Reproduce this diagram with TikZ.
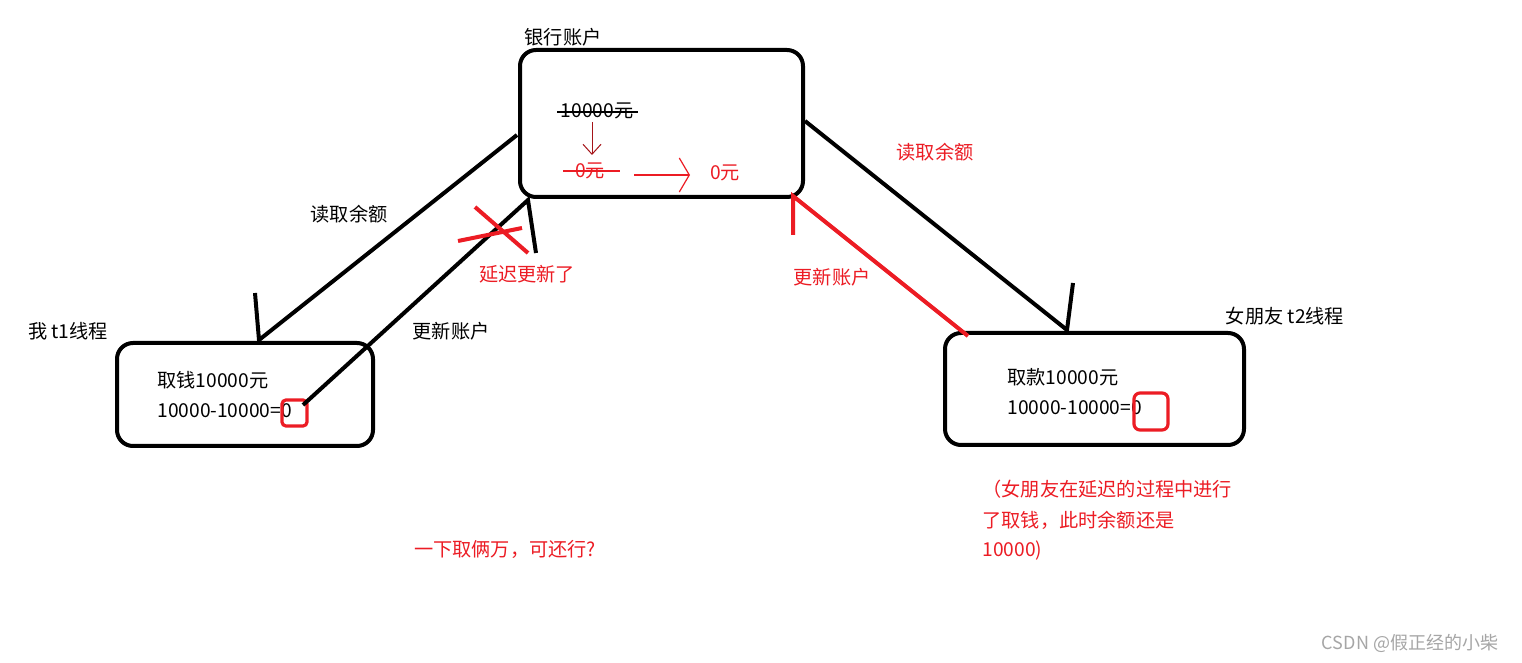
\documentclass[tikz,border=0pt]{standalone}
\usepackage{fontspec}
\setmainfont{Noto Sans CJK SC}
\usetikzlibrary{arrows.meta}
\definecolor{rd}{RGB}{236,28,36}
\begin{document}
\begin{tikzpicture}[x=0.5pt,y=-0.5pt,
  box/.style={draw=black,line width=2pt,rounded corners=8pt},
  txt/.style={font=\fontsize{9.6}{11}\selectfont,inner sep=0pt},
  rtxt/.style={txt,text=rd},
  blk/.style={line width=2pt,black},
  red/.style={line width=2pt,rd}]
\useasboundingbox (0,0) rectangle (1522,663);
\fill[white] (0,0) rectangle (1522,663);
% boxes
\draw[box] (520,50) rectangle (803,197);
\draw[box] (117,343) rectangle (373,446);
\draw[box] (945,333) rectangle (1244,445);
\node[txt] (bank) at (563,37) {银行账户};
\node[txt] (m1) at (597,111) {10000元};
\draw[line width=0.6pt] (557,112) -- (638,112);
\coordinate (da) at (592,122); \coordinate (db) at (592,155);
\draw[line width=0.5pt,rd!70!black,-{Straight Barb[length=5pt,width=9pt]}] (da) -- (db);
\node[rtxt] (m2) at (590,171) {0元};
\draw[line width=0.6pt,rd] (563,171) -- (620,171);
\coordinate (ra) at (634,175); \coordinate (rb) at (690,175);
\draw[line width=0.6pt,rd,-{Straight Barb[length=5pt,width=17pt]}] (ra) -- (rb);
\node[rtxt] (m3) at (725,173) {0元};
% left box texts
\node[txt] (me) at (68,331) {我 t1线程};
\node[txt,anchor=west] (l1) at (157,380) {取钱10000元};
\node[txt,anchor=west] (l2) at (157,411) {10000-10000=0};
\draw[rd,line width=1.6pt,rounded corners=2pt] (282,400) rectangle (307,426);
% right box texts
\node[txt] (gf) at (1285,316) {女朋友 t2线程};
\node[txt,anchor=west] (r1) at (1007,377) {取款10000元};
\node[txt,anchor=west] (r2) at (1007,408) {10000-10000=0};
\draw[rd,line width=1.6pt,rounded corners=3pt] (1134,393) rectangle (1168,430);
% left read line
\coordinate (a1) at (517,135); \coordinate (a2) at (259,340); \coordinate (a3) at (255,293);
\draw[blk] (a1) -- (a2) -- (a3);
\node[txt] (t1) at (349,214) {读取余额};
% left update line
\coordinate (b1) at (303,405); \coordinate (b2) at (528,200); \coordinate (b3) at (536,253);
\draw[blk] (b1) -- (b2) -- (b3);
\draw[red] (475,207) -- (528,253);
\draw[red] (458,241) -- (522,228);
\node[txt] (t2) at (451,331) {更新账户};
\node[rtxt] (t3) at (527,274) {延迟更新了};
% right read line
\coordinate (c1) at (805,121); \coordinate (c2) at (1067,330); \coordinate (c3) at (1073,283);
\draw[blk] (c1) -- (c2) -- (c3);
\node[rtxt] (t4) at (935,152) {读取余额};
% right update line
\coordinate (d1) at (968,336); \coordinate (d2) at (793,196); \coordinate (d3) at (793,235);
\draw[red] (d1) -- (d2) -- (d3);
\node[rtxt] (t5) at (832,277) {更新账户};
\node[rtxt] (t6) at (505,549) {一下取俩万，可还行?};
\node[rtxt,anchor=west] (n1) at (982,489) {（女朋友在延迟的过程中进行};
\node[rtxt,anchor=west] (n2) at (982,520) {了取钱，此时余额还是};
\node[rtxt,anchor=west] (n3) at (982,551) {10000)};
\node[txt,text=gray!70,font=\fontsize{9}{10}\selectfont] (csdn) at (1410,643) {CSDN @假正经的小柴};
\end{tikzpicture}
\end{document}
